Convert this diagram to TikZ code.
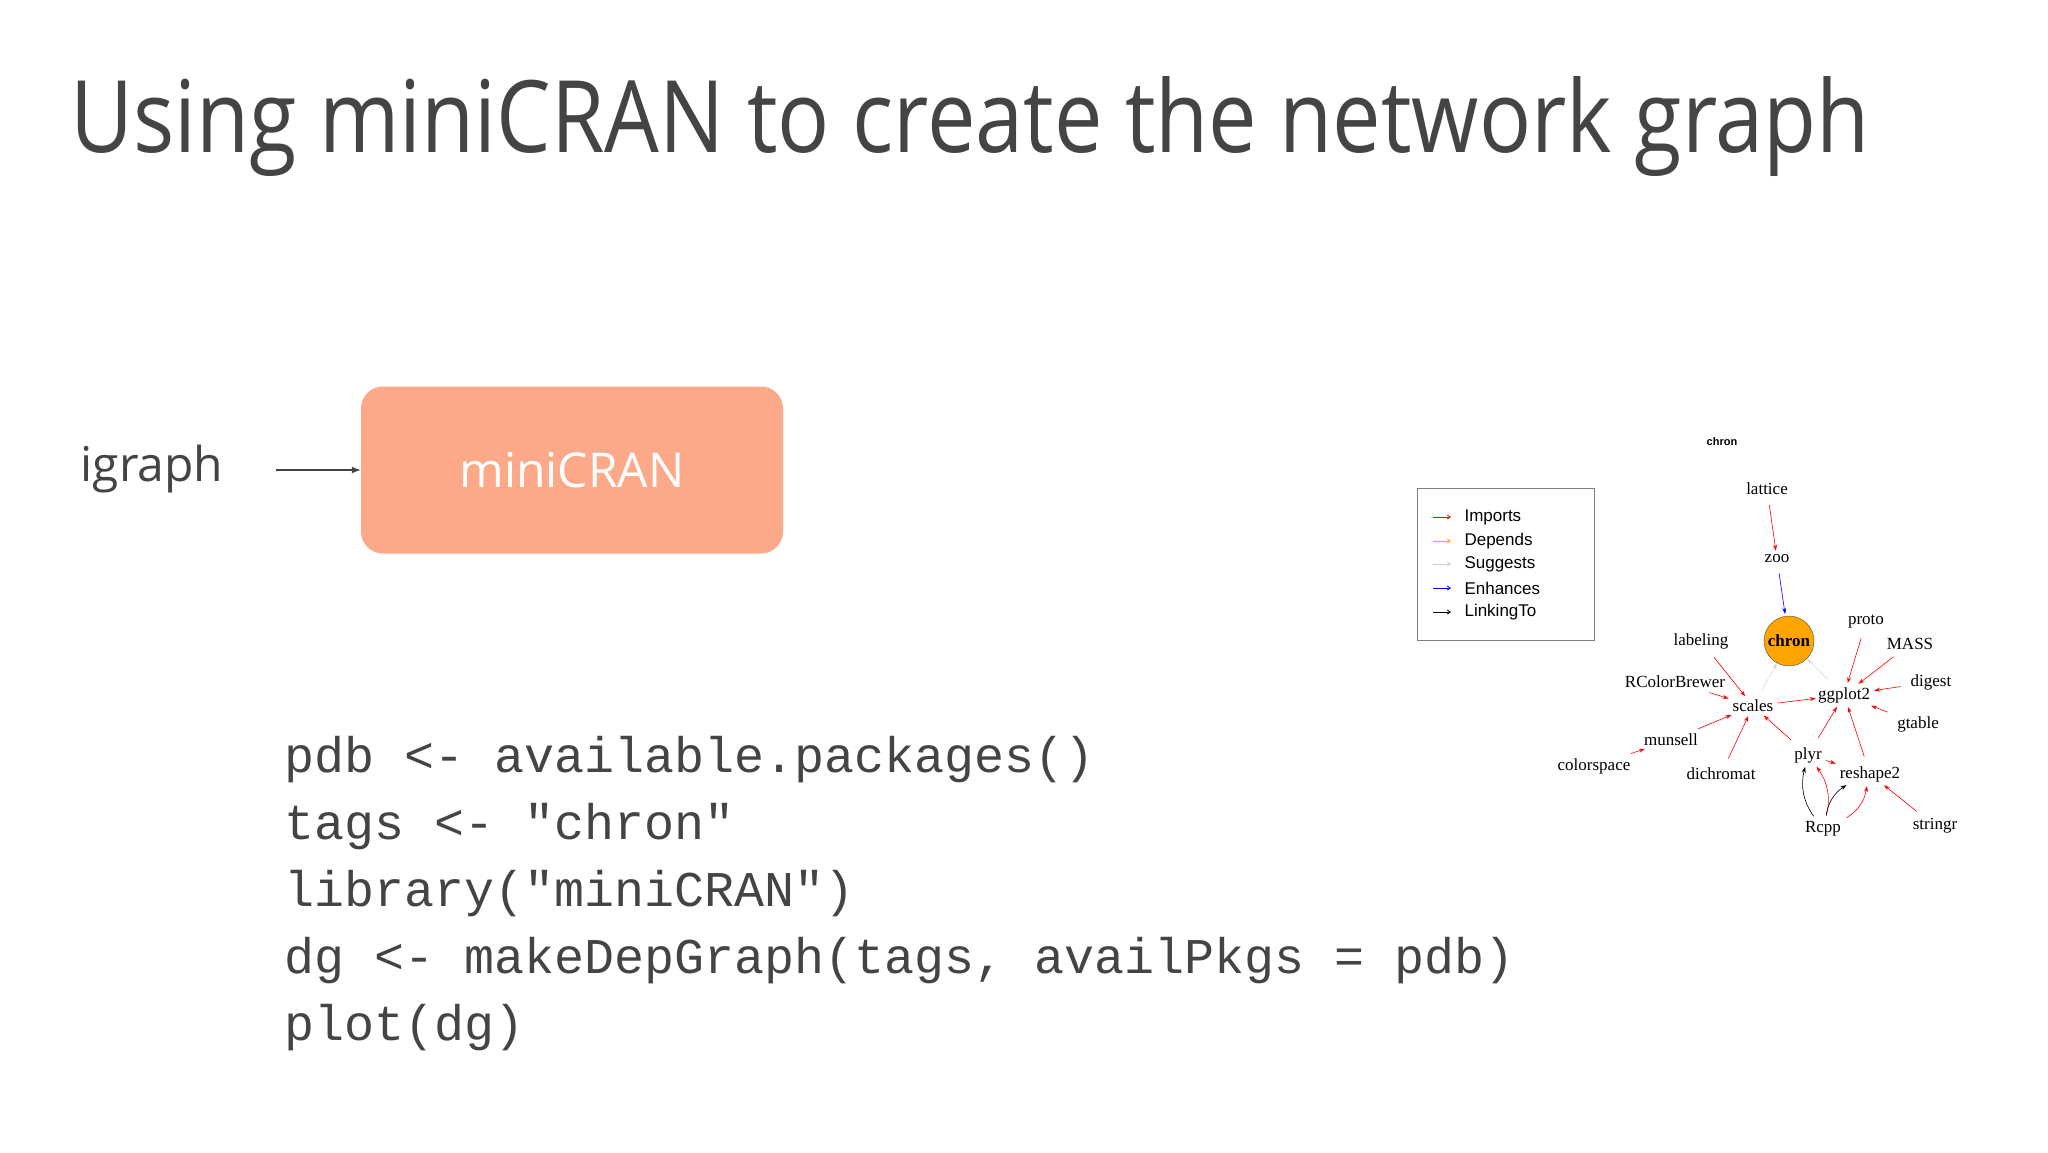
\documentclass[tikz,border=0pt]{standalone}
\usepackage{fontspec}
\setmainfont{Open Sans}
\newfontfamily\rser{Liberation Serif}
\newfontfamily\rsans{Liberation Sans}
\newfontfamily\mono{Liberation Mono}
\usetikzlibrary{arrows.meta}
\definecolor{txt}{HTML}{444444}
\definecolor{boxc}{HTML}{FCA98A}
\definecolor{orng}{HTML}{FFA500}
\begin{document}
\begin{tikzpicture}[x=1pt,y=-1pt,
  pk/.style={font=\rser\fontsize{17}{17}\selectfont, inner sep=2pt},
  ed/.style={-{Stealth[length=6pt,width=4pt]}, red, line width=0.6pt, shorten <=8pt, shorten >=2pt},
  lg/.style={-{Straight Barb[length=3pt,width=4pt]}, line width=0.8pt},
  lt/.style={font=\rsans\fontsize{17}{17}\selectfont, anchor=west}]
\useasboundingbox (0,0) rectangle (2048,1152);
\fill[white] (0,0) rectangle (2048,1152);
\node[anchor=base west, text=txt, font=\fontsize{100}{100}\selectfont, inner sep=0] (title) at (70,152) {\scalebox{0.865}[1]{Using miniCRAN to create the network graph}};
\node[text=txt, font=\fontsize{48}{48}\selectfont] (ig) at (152,469) {igraph};
\node[fill=boxc, rounded corners=22pt, minimum width=422pt, minimum height=167pt, text=white, font=\fontsize{48}{48}\selectfont] (mc) at (572,470) {miniCRAN};
\coordinate (a0) at (276,470);
\draw[-{Latex[length=9pt,width=7pt]}, txt, line width=1.2pt] (a0) -- (mc.west);
\node[anchor=north west, text=txt, font=\mono\fontsize{50}{67}\selectfont, align=left, inner sep=0] (code) at (284,736) {pdb <- available.packages()\\tags <- "chron"\\library("miniCRAN")\\dg <- makeDepGraph(tags, availPkgs = pdb)\\plot(dg)};
\begin{scope}[shift={(-16,-5)}]
% legend
\node[draw=gray, line width=1pt, minimum width=177pt, minimum height=152pt] (leg) at (1521.5,569) {};
\coordinate (l1) at (1449,522); \coordinate (m1) at (1467,522);
\coordinate (l2) at (1449,546); \coordinate (m2) at (1467,546);
\coordinate (l3) at (1449,569); \coordinate (m3) at (1467,569);
\coordinate (l4) at (1449,593); \coordinate (m4) at (1467,593);
\coordinate (l5) at (1449,617); \coordinate (m5) at (1467,617);
\draw[lg, red] (l1) -- (m1); \draw[lg, orng] (l2) -- (m2); \draw[lg, gray!40] (l3) -- (m3);
\draw[lg, blue] (l4) -- (m4); \draw[lg, black] (l5) -- (m5);
\node[lt] (t1) at (1477,522) {Imports};
\node[lt] (t2) at (1477,546) {Depends};
\node[lt] (t3) at (1477,569) {Suggests};
\node[lt] (t4) at (1477,593) {Enhances};
\node[lt] (t5) at (1477,617) {LinkingTo};
% graph
\node[font=\rsans\bfseries\fontsize{11}{11}\selectfont] (gt) at (1738,447) {chron};
\node[pk] (lattice) at (1783,494) {lattice};
\node[pk] (zoo) at (1793,564) {zoo};
\node[circle, fill=orng, draw=black!70, minimum size=50pt, inner sep=0, font=\rser\bfseries\fontsize{17}{17}\selectfont] (chron) at (1805,646) {chron};
\node[pk] (proto) at (1882,627) {proto};
\node[pk] (MASS) at (1926,649) {MASS};
\node[pk] (labeling) at (1717,646) {labeling};
\node[pk] (RCB) at (1691,687) {RColorBrewer};
\node[pk] (digest) at (1947,687) {digest};
\node[pk] (ggplot2) at (1860,700) {ggplot2};
\node[pk] (scales) at (1769,711) {scales};
\node[pk] (gtable) at (1934,729) {gtable};
\node[pk] (munsell) at (1687,745) {munsell};
\node[pk] (plyr) at (1824,760) {plyr};
\node[pk] (colorspace) at (1610,771) {colorspace};
\node[pk] (dichromat) at (1737,779) {dichromat};
\node[pk] (reshape2) at (1886,779) {reshape2};
\node[pk] (Rcpp) at (1839,834) {Rcpp};
\node[pk] (stringr) at (1951,831) {stringr};
\draw[ed] (lattice) -- (zoo);
\draw[ed, blue] (zoo) -- (chron);
\draw[ed, gray!30, shorten >=0pt] (scales) -- (chron);
\draw[ed, gray!30, shorten >=0pt] (ggplot2) -- (chron);
\draw[ed] (labeling) -- (scales);
\draw[ed] (RCB) -- (scales);
\draw[ed] (munsell) -- (scales);
\draw[ed] (dichromat) -- (scales);
\draw[ed] (plyr) -- (scales);
\draw[ed, shorten <=2pt, shorten >=0pt] (scales) -- (ggplot2);
\draw[ed] (proto) -- (ggplot2);
\draw[ed] (MASS) -- (ggplot2);
\draw[ed] (digest) -- (ggplot2);
\draw[ed] (gtable) -- (ggplot2);
\draw[ed] (plyr) -- (ggplot2);
\draw[ed] (reshape2) -- (ggplot2);
\draw[ed] (colorspace) -- (munsell);
\draw[ed, shorten <=2pt] (plyr) -- (reshape2);
\draw[ed, shorten <=4pt] (Rcpp) to[bend right=25] (plyr);
\draw[ed, black, shorten <=4pt] (Rcpp) to[bend left=25] (plyr);
\draw[ed, shorten <=4pt] (Rcpp) to[bend right=25] (reshape2);
\draw[ed, black, shorten <=4pt] (Rcpp) to[bend left=25] (reshape2);
\draw[ed] (stringr) -- (reshape2);
\end{scope}
\end{tikzpicture}
\end{document}
